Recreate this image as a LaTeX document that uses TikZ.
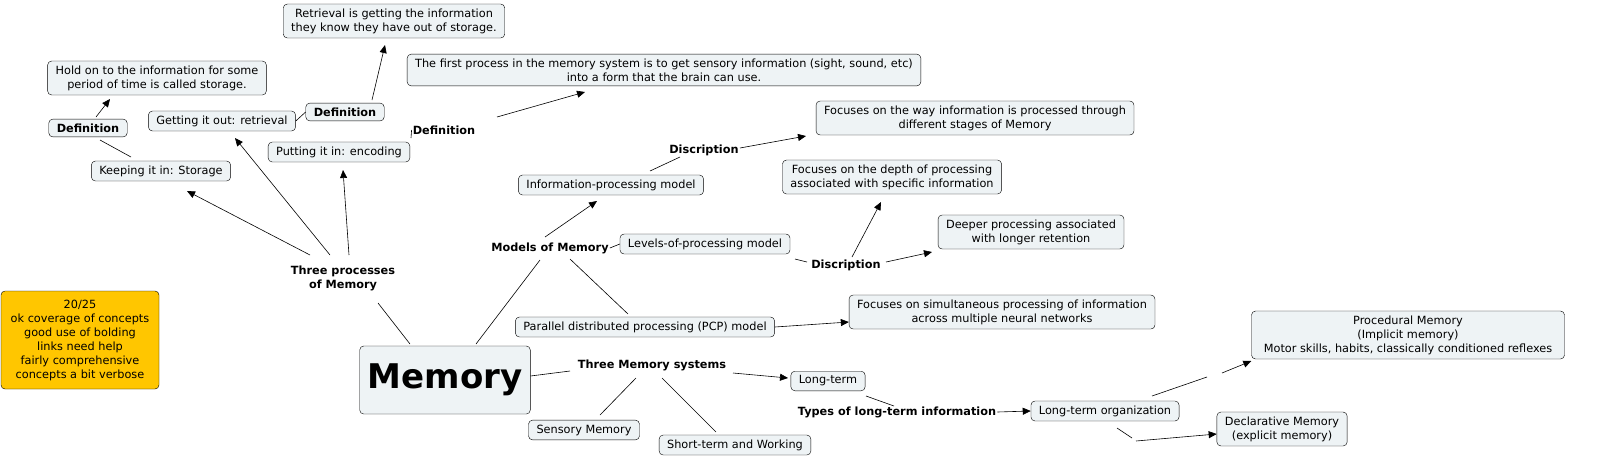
\documentclass[tikz,border=0pt]{standalone}
\usepackage{fontspec}
\setmainfont{DejaVu Sans}
\usetikzlibrary{arrows.meta}
\begin{document}
\begin{tikzpicture}[x=1pt,y=-1pt,
  box/.style={draw=black,fill=boxc,rounded corners=4pt,align=center,font=\fontsize{11.3}{14}\selectfont,inner xsep=8pt,inner ysep=4.5pt},
  bb/.style={box,font=\fontsize{11.3}{14}\selectfont\bfseries},
  lab/.style={align=center,font=\fontsize{11.3}{14}\selectfont\bfseries,inner sep=1pt},
  ln/.style={draw=black,line width=0.6pt},
  ar/.style={ln,-{Triangle[length=8pt,width=7pt]}}]
\definecolor{boxc}{HTML}{EEF3F5}
\definecolor{orng}{HTML}{FFC600}
\useasboundingbox (0,0) rectangle (1613,475);
\node[box,minimum width=156pt,minimum height=68pt,font=\fontsize{34}{38}\selectfont\bfseries] (mem) at (445,380) {Memory};
\node[box] (ret) at (394,21) {Retrieval is getting the information\\they know they have out of storage.};
\node[box] (first) at (664,70) {The first process in the memory system is to get sensory information (sight, sound, etc)\\into a form that the brain can use.};
\node[box] (hold) at (157,78) {Hold on to the information for some\\period of time is called storage.};
\node[bb] (def1) at (345,112) {Definition};
\node[bb] (def2) at (88,128) {Definition};
\node[box] (get) at (222,121) {Getting it out: retrieval};
\node[lab] (def3) at (444,130) {Definition};
\node[box] (put) at (339,152) {Putting it in: encoding};
\node[box] (keep) at (161,171) {Keeping it in: Storage};
\node[box] (way) at (975,118) {Focuses on the way information is processed through\\different stages of Memory};
\node[lab] (dis1) at (704,150) {Discription};
\node[box] (depth) at (892,177) {Focuses on the depth of processing\\associated with specific information};
\node[box] (info) at (611,185) {Information-processing model};
\node[box] (deep) at (1031,232) {Deeper processing associated\\with longer retention};
\node[box] (lev) at (705,244) {Levels-of-processing model};
\node[lab] (mod) at (550,248) {Models of Memory};
\node[lab] (dis2) at (846,265) {Discription};
\node[lab] (three) at (343,278) {Three processes\\of Memory};
\node[box,fill=orng,minimum width=158pt,minimum height=98pt] (grade) at (80,340) {20/25\\ok coverage of concepts\\good use of bolding\\links need help\\fairly comprehensive\\concepts a bit verbose};
\node[box] (sim) at (1002,312) {Focuses on simultaneous processing of information\\across multiple neural networks};
\node[box] (par) at (645,327) {Parallel distributed processing (PCP) model};
\node[box,minimum width=313pt] (proc) at (1408,335) {Procedural Memory\\(Implicit memory)\\Motor skills, habits, classically conditioned reflexes};
\node[lab] (tms) at (652,365) {Three Memory systems};
\node[box] (lt) at (828,381) {Long-term};
\node[lab] (types) at (897,412) {Types of long-term information};
\node[box] (lto) at (1105,411) {Long-term organization};
\node[box] (decl) at (1282,429) {Declarative Memory\\(explicit memory)};
\node[box] (sens) at (584,430) {Sensory Memory};
\node[box] (short) at (735,445) {Short-term and Working};
\coordinate (b1) at (1215,374);
\coordinate (b2) at (1132,438);
% three processes
\draw[ln] (410,344) -- (378,303);
\draw[ar] (310,255) -- (187,191);
\draw[ar] (330,255) -- (235,138);
\draw[ar] (349,255) -- (343,170);
\draw[ln] (131,157) -- (100,140);
\draw[ar] (96,117) -- (110,99);
\draw[ln] (get.east) -- (def1.west);
\draw[ar] (372,100) -- (385,45);
\draw[ln] (411,138) -- (def3.west);
\draw[ar] (497,117) -- (585,92);
% models
\draw[ln] (476,344) -- (540,260);
\draw[ar] (545,237) -- (597,201);
\draw[ln] (mod.east) -- (lev.west);
\draw[ln] (570,259) -- (628,314);
\draw[ln] (650,171) -- (680,157);
\draw[ar] (740,148) -- (806,136);
\draw[ln] (795,259) -- (807,262);
\draw[ar] (852,257) -- (881,202);
\draw[ar] (886,262) -- (932,252);
\draw[ar] (par.east) -- (sim.west |- 0,322);
% systems
\draw[ln] (mem.east |- 0,376) -- (570,371);
\draw[ar] (733,373) -- (788,378);
\draw[ln] (600,415) -- (636,378);
\draw[ln] (716,432) -- (662,378);
\draw[ln] (866,396) -- (894,406);
\draw[ar] (types.east) -- (lto.west);
\draw[ln] (1152,396) -- (1207,377);
\draw[ar] (1222,373) -- (proc.west |- 0,361);
\draw[ln] (1117,428) -- (b2);
\draw[ar] (1136,441) -- (decl.west |- 0,434);
\end{tikzpicture}
\end{document}
